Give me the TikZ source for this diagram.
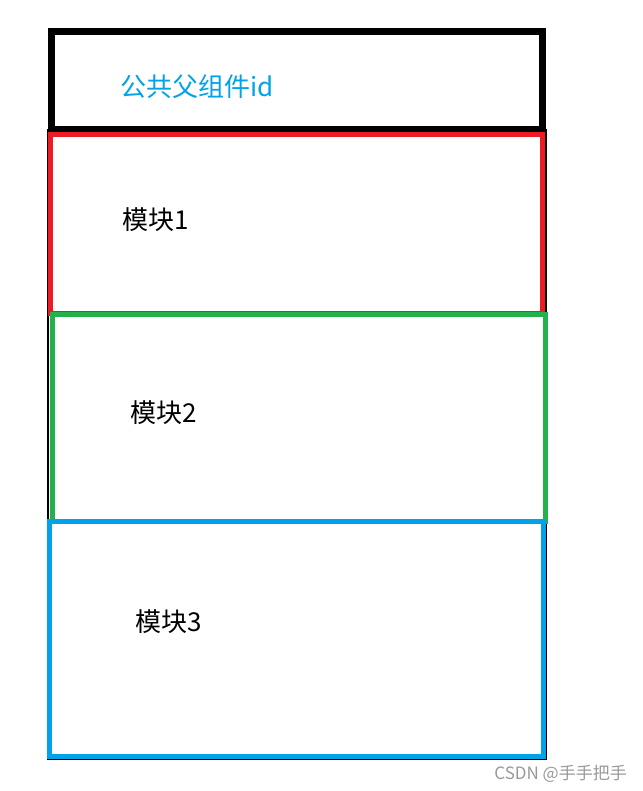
\documentclass[tikz,border=0pt]{standalone}
\usepackage{fontspec}
\setmainfont{Noto Sans CJK SC}
\usetikzlibrary{positioning}
\definecolor{idblue}{HTML}{00A2E8}
\definecolor{boxred}{HTML}{ED1C24}
\definecolor{boxgreen}{HTML}{22B14C}
\tikzset{% boxes and labels of the page
        box/.style={line width=5pt},
        boxlabel/.style={anchor=west, inner sep=0pt, font=\fontsize{26}{30}\selectfont}
        }

\begin{document}
\begin{tikzpicture}[x=1pt,y=-1pt]
 \useasboundingbox (0,0) rectangle (642,791);
 \draw[line width=2pt] (48,130) rectangle (546,759);
 \draw[line width=7pt] (51.5,31.5) rectangle (542.5,130);
 \draw[box, boxred] (50.5,135) rectangle (542.5,313);
 \draw[box, boxgreen] (52.5,314.5) rectangle (545.5,521);
 \draw[box, idblue] (49.5,521.5) rectangle (543.5,756.5);
 \node[boxlabel, idblue] (parentid) at (120,87) {公共父组件id};
 \node[boxlabel] (block1) at (122,220) {模块1};
 \node[boxlabel] (block2) at (130,413) {模块2};
 \node[boxlabel] (block3) at (135,622) {模块3};
 \node[anchor=east, inner sep=0pt, gray!80, font=\fontsize{17}{20}\selectfont] (mark) at (627,774) {CSDN @手手把手};
\end{tikzpicture}
\end{document}
